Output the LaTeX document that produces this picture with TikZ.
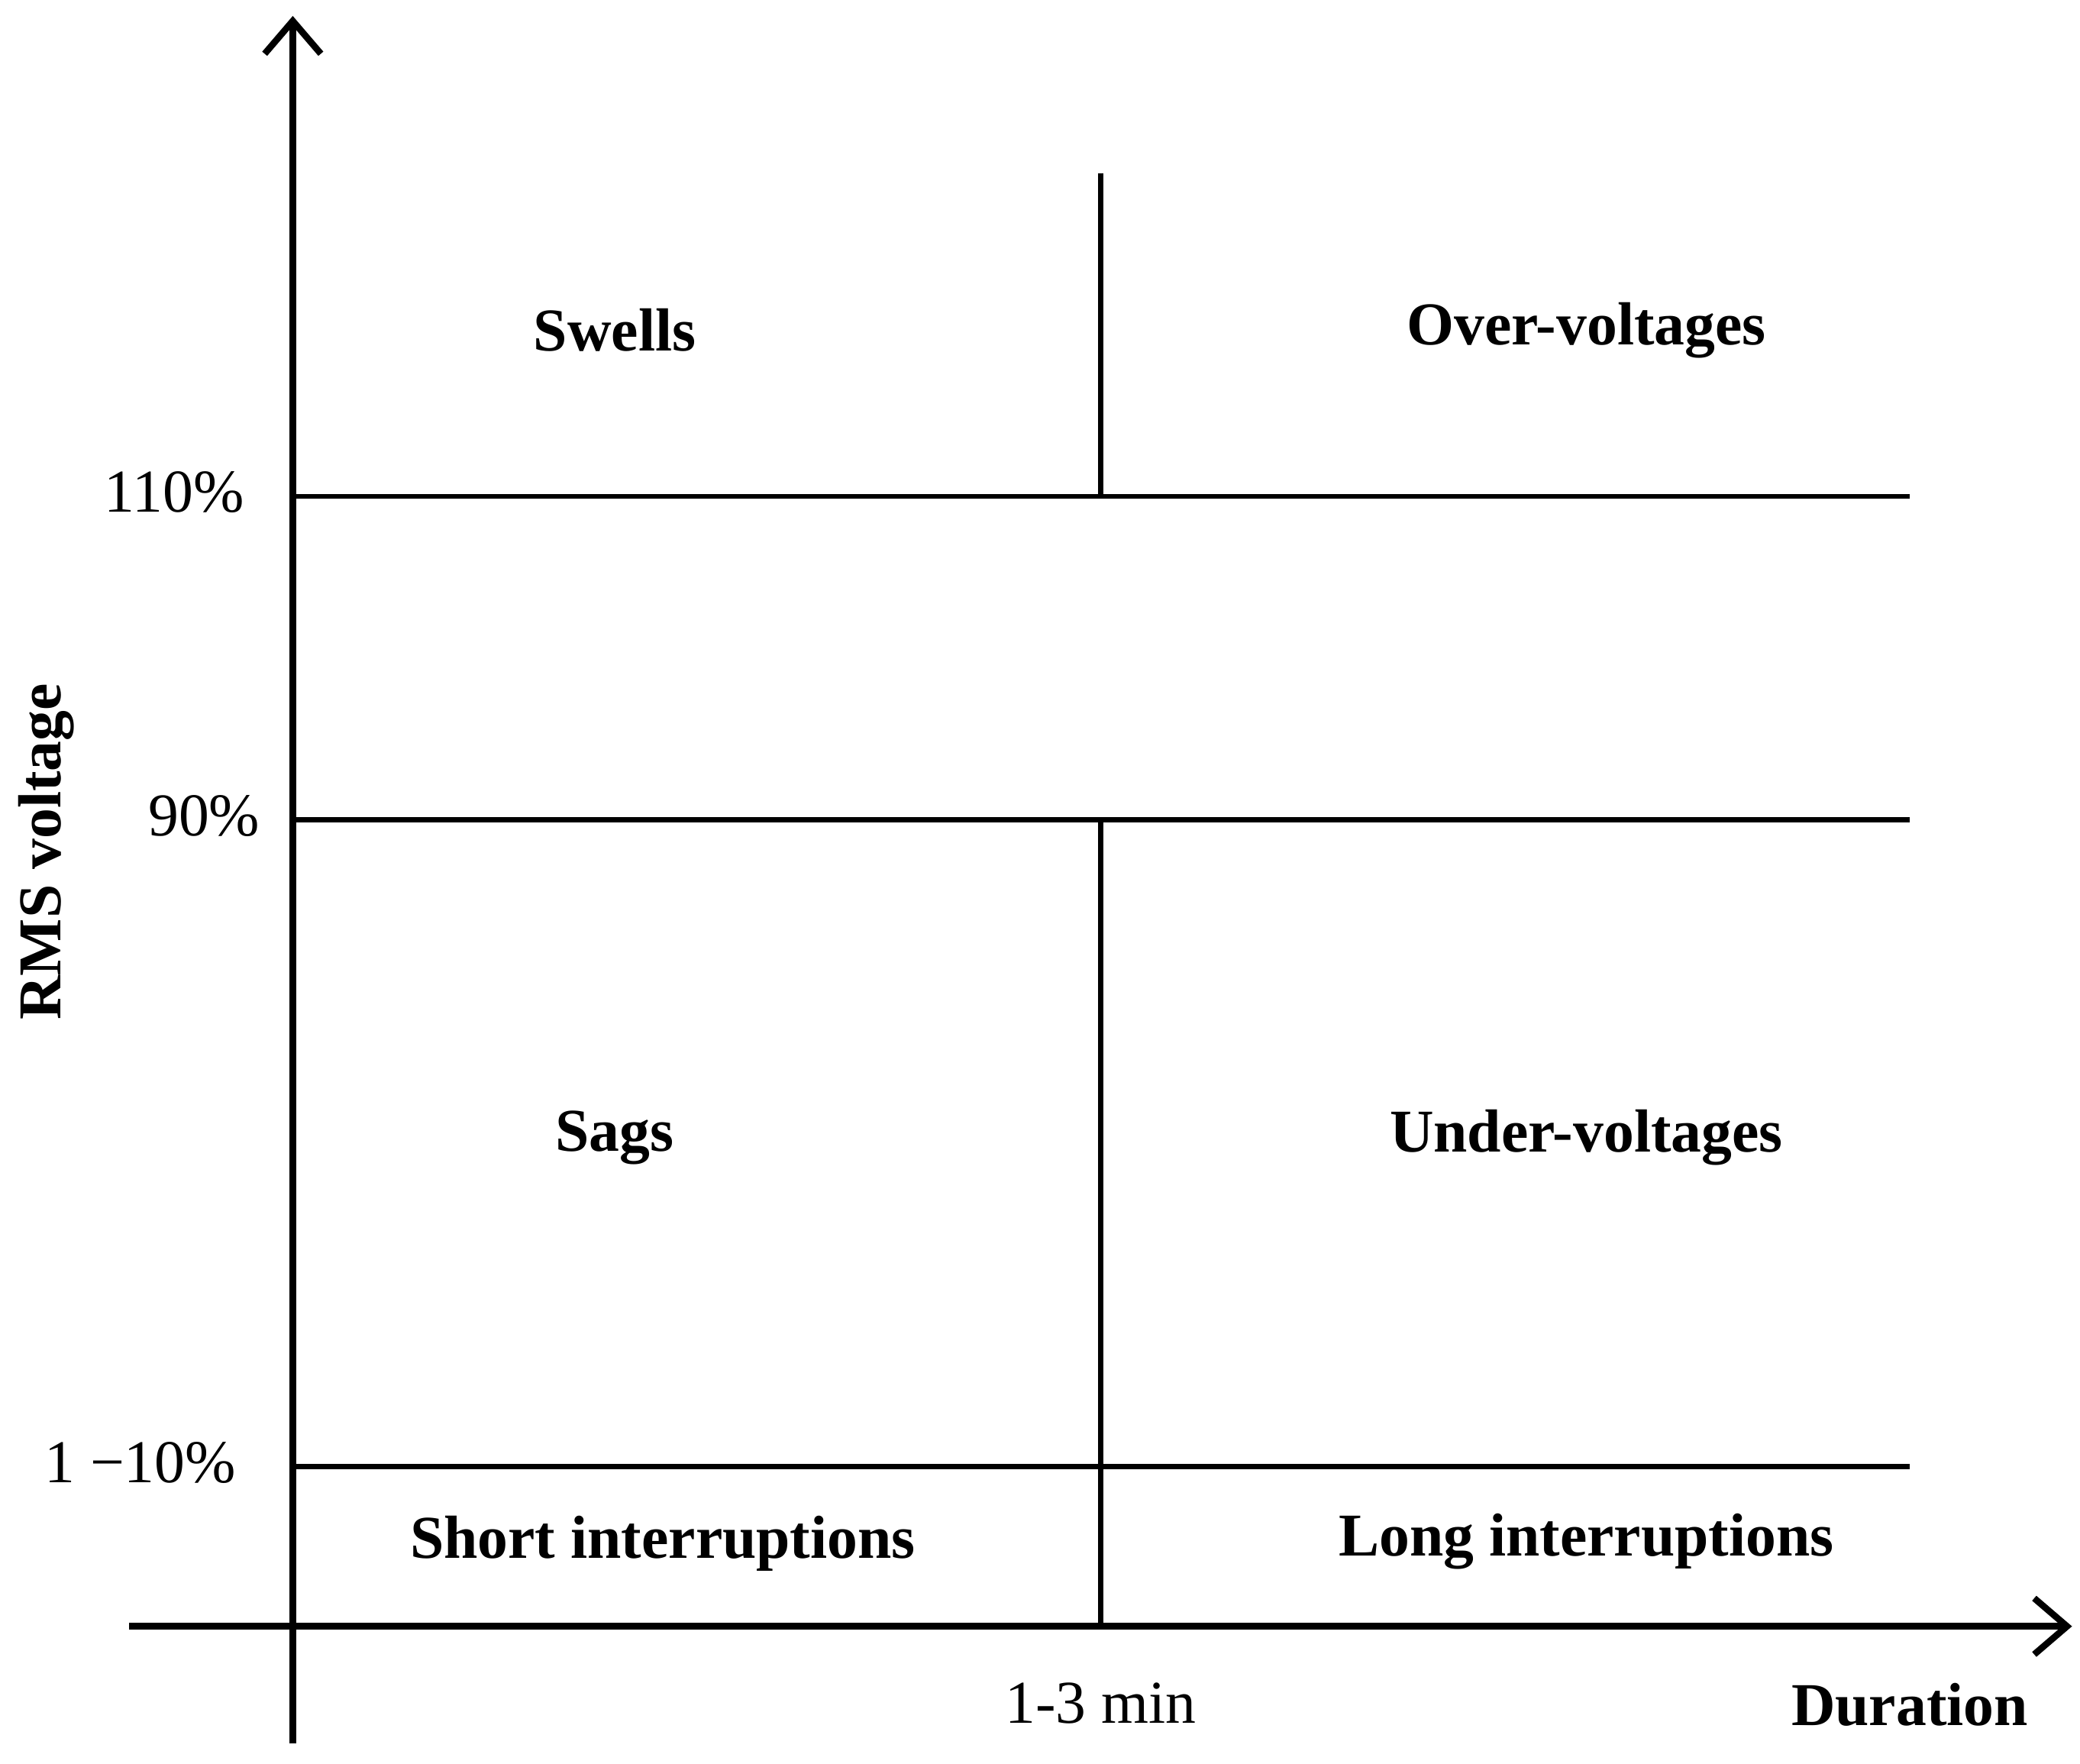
\documentclass[tikz,border=0pt]{standalone}
\usepackage{fontspec}
\setmainfont{Liberation Serif}
\usetikzlibrary{arrows.meta}
\begin{document}
\begin{tikzpicture}[x=0.01cm,y=-0.01cm,
  ln/.style={line width=1.1pt},
  ax/.style={line width=1.4pt,-{Straight Barb[length=7pt,width=12pt,line width=1.4pt]}},
  lab/.style={font=\fontsize{13}{15}\selectfont\bfseries},
  tick/.style={font=\fontsize{13}{15}\selectfont}]
\useasboundingbox (0,0) rectangle (1563,1325);
\coordinate (yb) at (220,1310); \coordinate (yt) at (220,12);
\coordinate (xl) at (97,1222); \coordinate (xr) at (1557,1222);
\draw[ax] (yb) -- (yt);
\draw[ax] (xl) -- (xr);
\foreach \n/\y in {a/373,b/616,c/1102}{
  \coordinate (\n l) at (220,\y); \coordinate (\n r) at (1435,\y);
  \draw[ln] (\n l) -- (\n r);}
\coordinate (v1) at (827,130); \coordinate (v2) at (827,373);
\coordinate (v3) at (827,616); \coordinate (v4) at (827,1222);
\draw[ln] (v1) -- (v2); \draw[ln] (v3) -- (v4);
\node[tick,anchor=east,inner sep=0pt] (t110) at (184,370) {110\%};
\node[tick,anchor=east,inner sep=0pt] (t90) at (196,613) {90\%};
\node[tick,anchor=east,inner sep=0pt] (t1) at (178,1099) {1 −10\%};
\node[tick] (tmin) at (827,1280) {1-3 min};
\node[lab] (dur) at (1435,1281) {Duration};
\node[lab,rotate=90] (rms) at (35,640) {RMS voltage};
\node[lab] (sw) at (462,248) {Swells};
\node[lab] (ov) at (1192,248) {Over-voltages};
\node[lab] (sg) at (462,855) {Sags};
\node[lab] (uv) at (1192,855) {Under-voltages};
\node[lab] (si) at (498,1160) {Short interruptions};
\node[lab] (li) at (1192,1158) {Long interruptions};
\end{tikzpicture}
\end{document}
